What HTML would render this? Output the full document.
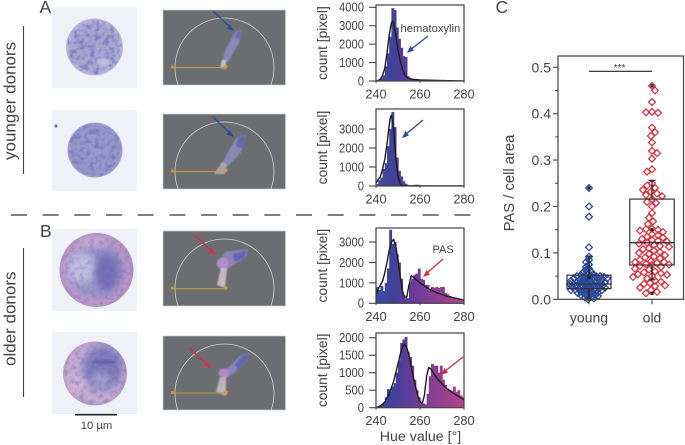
<!DOCTYPE html>
<html lang="en">
<head>
<meta charset="utf-8">
<title>PAS staining figure</title>
<style>
html,body{margin:0;padding:0;background:#fff;width:685px;height:445px;overflow:hidden}
svg{display:block;filter:blur(0.35px)}
text{font-family:"Liberation Sans",sans-serif;fill:#444}
</style>
</head>
<body>
<svg id="fig" width="685" height="445" viewBox="0 0 685 445" xmlns="http://www.w3.org/2000/svg">
<defs>
<linearGradient id="hueGrad" gradientUnits="userSpaceOnUse" x1="376" y1="0" x2="464" y2="0">
<stop offset="0" stop-color="#3c4f9e"/><stop offset="0.2" stop-color="#41409a"/><stop offset="0.45" stop-color="#6a3c98"/><stop offset="0.75" stop-color="#96408f"/><stop offset="1" stop-color="#b04490"/>
</linearGradient>
<radialGradient id="cellYoung1"><stop offset="0" stop-color="#a4a4d0"/><stop offset="0.85" stop-color="#a9a9d3"/><stop offset="1" stop-color="#bcbbdb"/></radialGradient>
<radialGradient id="cellYoung2"><stop offset="0" stop-color="#9a9bce"/><stop offset="0.9" stop-color="#9495c9"/><stop offset="1" stop-color="#a7a6d2"/></radialGradient>
<radialGradient id="cellOld1"><stop offset="0" stop-color="#9a95c8"/><stop offset="0.62" stop-color="#9c93c6"/><stop offset="0.85" stop-color="#bb99c8"/><stop offset="1" stop-color="#b093c2"/></radialGradient>
<radialGradient id="cellOld2"><stop offset="0" stop-color="#b9a8d2"/><stop offset="0.85" stop-color="#c7adcf"/><stop offset="1" stop-color="#b39ec8"/></radialGradient>
<filter id="mottle" x="0" y="0" width="100%" height="100%" color-interpolation-filters="sRGB"><feTurbulence type="fractalNoise" baseFrequency="0.2" numOctaves="2" seed="4"/><feColorMatrix values="0 0 0 0 0.38  0 0 0 0 0.38  0 0 0 0 0.68  3 0 0 0 -1.3"/><feComposite in2="SourceAlpha" operator="in"/></filter>
<filter id="soft" x="-40%" y="-40%" width="180%" height="180%"><feGaussianBlur stdDeviation="4"/></filter>
<filter id="soft2" x="-40%" y="-40%" width="180%" height="180%"><feGaussianBlur stdDeviation="0.9"/></filter>
<clipPath id="clipS1"><rect x="163" y="10" width="122" height="75"/></clipPath>
<clipPath id="clipS2"><rect x="163" y="114" width="122" height="75"/></clipPath>
<clipPath id="clipS3"><rect x="163" y="231" width="122" height="75"/></clipPath>
<clipPath id="clipS4"><rect x="163" y="336" width="122" height="74"/></clipPath>
<clipPath id="cc3"><circle cx="96.5" cy="270" r="37"/></clipPath>
<clipPath id="cc4"><circle cx="95" cy="373.5" r="32"/></clipPath>
</defs>

<text x="39.5" y="13" font-size="17.5">A</text>
<text x="40" y="237" font-size="17.5">B</text>
<text x="495.5" y="13" font-size="17.5">C</text>

<text transform="translate(15.5,160) rotate(-90)" font-size="17">younger donors</text>
<line x1="23.5" y1="26" x2="23.5" y2="174" stroke="#444" stroke-width="1.1"/>
<text transform="translate(15.5,366) rotate(-90)" font-size="17">older donors</text>
<line x1="23.5" y1="248" x2="23.5" y2="397" stroke="#444" stroke-width="1.1"/>
<line x1="11" y1="215" x2="471" y2="215" stroke="#333" stroke-width="1.3" stroke-dasharray="16 15.67"/>

<g>
<rect x="52" y="7" width="85" height="81" fill="#f0f0f8"/>
<circle cx="94.5" cy="47" r="28.5" fill="url(#cellYoung1)"/>
<circle cx="94.5" cy="47" r="27.5" fill="#000" filter="url(#mottle)" opacity="0.6"/>
<ellipse cx="103" cy="62" rx="6" ry="4" fill="#bcbcdc" filter="url(#soft2)"/>
</g>
<g>
<rect x="52" y="110" width="85" height="81" fill="#f0f0f8"/>
<circle cx="95" cy="150" r="27.5" fill="url(#cellYoung2)"/>
<circle cx="95" cy="150" r="26.5" fill="#000" filter="url(#mottle)" opacity="0.5"/>
<circle cx="56" cy="126" r="1.5" fill="#666a80"/>
</g>
<g>
<rect x="52" y="229" width="85" height="82" fill="#f0f0f8"/>
<circle cx="96.5" cy="270" r="37" fill="url(#cellOld1)"/>
<g clip-path="url(#cc3)">
<ellipse cx="82" cy="268" rx="15" ry="16" fill="#c0bde0" filter="url(#soft)"/>
<ellipse cx="107" cy="272" rx="12" ry="19" fill="#7470b6" filter="url(#soft)"/>
<ellipse cx="92" cy="243" rx="18" ry="4" fill="#c6b2d8" filter="url(#soft)"/>
</g>
<circle cx="96.5" cy="270" r="36" fill="#000" filter="url(#mottle)" opacity="0.3"/>
</g>
<g>
<rect x="52" y="332" width="85" height="82" fill="#f0f0f8"/>
<circle cx="95" cy="373.5" r="32" fill="url(#cellOld2)"/>
<g clip-path="url(#cc4)">
<ellipse cx="103" cy="368" rx="20" ry="22" fill="#7f7bba" filter="url(#soft)"/>
<ellipse cx="101" cy="380" rx="8" ry="7" fill="#afaddb" filter="url(#soft)"/>
<ellipse cx="104" cy="362" rx="12" ry="2" fill="#6762ac" filter="url(#soft2)"/>
<ellipse cx="76" cy="384" rx="7" ry="8" fill="#d8b8d6" filter="url(#soft)"/>
</g>
<circle cx="95" cy="373.5" r="31" fill="#000" filter="url(#mottle)" opacity="0.35"/>
</g>
<line x1="75" y1="414.7" x2="117" y2="414.7" stroke="#222" stroke-width="1.6"/>
<text x="96.5" y="429" font-size="11.3" text-anchor="middle">10 µm</text>

<g>
<rect x="163" y="10" width="122.5" height="75" fill="#6c6d70" stroke="#cfcfcf" stroke-width="0.7"/>
<g clip-path="url(#clipS1)">
<circle cx="224.5" cy="67.5" r="49.5" fill="none" stroke="#d4d4d4" stroke-width="0.8"/>
<path d="M222 62 L226 48 L236 31 L242 30 L239 43 L228 62 Z" fill="#928cc4" opacity="0.85" filter="url(#soft2)"/>
<path d="M235 38 L238 31 L242 30 L240 39 Z" fill="#5e66ae" opacity="0.85" filter="url(#soft2)"/>
<path d="M220 68 L222 60 L226 60 L226 69 Z" fill="#d9d2d4" opacity="0.8" filter="url(#soft2)"/>
<line x1="172" y1="67.5" x2="225" y2="67.5" stroke="#bfa044" stroke-width="1"/>
<rect x="171" y="65.5" width="2.5" height="3" fill="#c9a22e"/><rect x="224.5" y="65" width="3" height="3" fill="#c9a22e"/>
</g></g>
<line x1="213" y1="11" x2="231" y2="28" stroke="#2c4a9e" stroke-width="1.4"/>
<polygon points="234,31 226.5,28.5 230,24.5" fill="#2c4a9e"/>

<g>
<rect x="163" y="114" width="122.5" height="75" fill="#6c6d70" stroke="#cfcfcf" stroke-width="0.7"/>
<g clip-path="url(#clipS2)">
<circle cx="224.5" cy="171.5" r="49.5" fill="none" stroke="#d4d4d4" stroke-width="0.8"/>
<path d="M222 164 L229 150 L238 136 L246 136 L241 152 L228 166 Z" fill="#928cc4" opacity="0.85" filter="url(#soft2)"/>
<path d="M236 146 L238 136 L246 136 L243 149 Z" fill="#5e66ae" opacity="0.85" filter="url(#soft2)"/>
<path d="M214 174 L222 162 L227 165 L225 174 Z" fill="#d4c8cf" opacity="0.6" filter="url(#soft2)"/>
<line x1="172" y1="171.5" x2="225" y2="171.5" stroke="#bfa044" stroke-width="1"/>
<rect x="171" y="169.5" width="2.5" height="3" fill="#c9a22e"/><rect x="224.5" y="169" width="3" height="3" fill="#c9a22e"/>
</g></g>
<line x1="213" y1="117" x2="231" y2="134" stroke="#2c4a9e" stroke-width="1.4"/>
<polygon points="234,137 226.5,134.5 230,130.5" fill="#2c4a9e"/>

<g>
<rect x="163" y="231" width="122.5" height="75" fill="#6c6d70" stroke="#cfcfcf" stroke-width="0.7"/>
<g clip-path="url(#clipS3)">
<circle cx="224.5" cy="288.5" r="49.5" fill="none" stroke="#d4d4d4" stroke-width="0.8"/>
<path d="M216 264 L226 252 L248 249 L246 257 L235 264 L226 270 L220 270 Z" fill="#9188c6" opacity="0.85" filter="url(#soft2)"/>
<path d="M233 254 L247 250 L245 258 L235 262 Z" fill="#5c64b0" opacity="0.85" filter="url(#soft2)"/>
<ellipse cx="223" cy="263" rx="6" ry="5.5" fill="#b68ec6" opacity="0.85" filter="url(#soft2)"/>
<path d="M217 285 L221 268 L227 268 L225 288 Z" fill="#d8d0d6" opacity="0.8" filter="url(#soft2)"/>
<line x1="172" y1="288.7" x2="225" y2="288.7" stroke="#b59a45" stroke-width="1.1"/>
<rect x="171" y="286.5" width="2.5" height="3" fill="#c9a22e"/><rect x="224.5" y="286.5" width="3" height="3" fill="#c9a22e"/>
</g></g>
<line x1="194" y1="235" x2="213" y2="252" stroke="#d4313c" stroke-width="1.4"/>
<polygon points="216,255 208.5,252.5 212,248.5" fill="#d4313c"/>

<g>
<rect x="163" y="336" width="122.5" height="74" fill="#6c6d70" stroke="#cfcfcf" stroke-width="0.7"/>
<g clip-path="url(#clipS4)">
<circle cx="224.5" cy="393.5" r="49.5" fill="none" stroke="#d4d4d4" stroke-width="0.8"/>
<path d="M218 372 L228 368 L240 356 L250 352 L246 362 L233 374 L225 378 Z" fill="#9188c6" opacity="0.85" filter="url(#soft2)"/>
<path d="M235 364 L242 356 L250 352 L246 362 L238 370 Z" fill="#5c64b0" opacity="0.85" filter="url(#soft2)"/>
<ellipse cx="224" cy="373" rx="5.5" ry="4.5" fill="#b68ec6" opacity="0.85" filter="url(#soft2)"/>
<path d="M216 392 L220 377 L226 377 L226 396 Z" fill="#d6ced3" opacity="0.75" filter="url(#soft2)"/>
<line x1="172" y1="393" x2="225" y2="393" stroke="#b59a45" stroke-width="1.1"/>
<rect x="171" y="391" width="2.5" height="3" fill="#c9a22e"/><rect x="224.5" y="391" width="3" height="3" fill="#c9a22e"/>
</g></g>
<line x1="189" y1="348" x2="208" y2="365" stroke="#d4313c" stroke-width="1.4"/>
<polygon points="211,368 203.5,365.5 207,361.5" fill="#d4313c"/>

<g id="histograms"></g>

<text x="400.5" y="32" font-size="11.2">hematoxylin</text>
<line x1="428" y1="36" x2="410" y2="50" stroke="#2c4a9e" stroke-width="1.3"/>
<polygon points="407,53 410.5,46 414,50.5" fill="#2c4a9e"/>
<line x1="423" y1="120" x2="405" y2="135" stroke="#2c4a9e" stroke-width="1.3"/>
<polygon points="402,138 405.5,131 409,135.5" fill="#2c4a9e"/>
<text x="432.5" y="253" font-size="11">PAS</text>
<line x1="443" y1="259" x2="426" y2="274" stroke="#d4313c" stroke-width="1.3"/>
<polygon points="423,277 426.5,270 430,274.5" fill="#d4313c"/>
<line x1="463" y1="357" x2="444" y2="372" stroke="#d4313c" stroke-width="1.3"/>
<polygon points="441,375 444.5,368 448,372.5" fill="#d4313c"/>
<text x="420.5" y="441" font-size="14.2" text-anchor="middle">Hue value [°]</text>

<g id="boxplot"></g>
</svg>

<script>
// ---- histogram data (counts per 1° hue bin, 240–279) ----
var hueTicks = [240, 260, 280];
var hist1Counts = [0,30,150,300,800,1500,2400,3950,3850,2900,2300,1800,1350,1300,250,150,120,100,90,80,70,80,60,50,40,40,30,30,30,20,60,20,20,10,10,10,10,10,5,5];
var hist2Counts = [100,300,450,900,1200,2100,3000,3900,3100,1500,800,500,250,120,60,40,50,60,70,60,40,20,20,10,10,10,10,10,10,5,5,5,5,5,5,5,5,5,5,5];
var hist3Counts = [800,650,850,600,1000,1700,3600,2900,3000,2400,2000,1200,400,250,250,1050,1200,1400,1450,1700,1200,1150,900,900,700,800,750,800,750,800,800,500,450,350,300,250,200,200,150,150];
var hist4Counts = [20,40,80,150,300,530,450,600,700,1000,1350,1850,1950,2020,1600,1450,1200,800,500,300,150,120,100,400,900,1250,1200,1200,1000,1200,800,650,550,500,480,600,450,500,350,300];
var curve1Hue = [240,241,242,243,244,245,246,247,247.5,248,249,250,251,252,253,254,256,260,270,280];
var curve1Count = [0,30,100,300,700,1500,2500,3150,3250,3150,2500,1700,1100,650,350,200,100,60,20,0];
var curve2Hue = [240,241,242,243,244,245,246,246.5,247,248,249,250,251,252,255,260,280];
var curve2Count = [150,350,500,900,1400,2200,3200,3600,3720,3000,1500,500,100,20,5,0,0];
var curve3Hue = [240,241,242,243,244,245,246,247,248,249,250,251,252,253,254,255,256,257,258,260,262,264,266,268,270,272,275,280];
var curve3Count = [400,700,900,1100,1500,2000,2600,3000,3130,2800,2100,1300,600,320,300,900,1350,1270,1170,1000,850,700,600,500,430,350,280,160];
var curve4Hue = [240,242,244,246,248,250,251,252,253,254,255,256,257,258,259,260,261,262,263,264,265,266,268,270,272,275,280];
var curve4Count = [0,50,160,380,750,1250,1520,1740,1820,1720,1480,1180,860,590,340,170,110,350,900,1150,1100,1000,820,680,550,420,230];
var yTicks1 = [0,1000,2000,3000,4000];
var yTicks2 = [0,1000,2000,3000];
var yTicks3 = [0,1000,2000,3000];
var yTicks4 = [0,500,1000,1500,2000];

// ---- box plot data ----
var groupNames = ['young','old'];
var pasTicks = [0,0.1,0.2,0.3,0.4,0.5];
var pasMinorTicks = [0.05,0.15,0.25,0.35,0.45];
var youngStats = {q1:0.023,median:0.033,q3:0.052,whiskLow:0,whiskHigh:0.093,mean:0.047,min:0,max:0.24};
var oldStats = {q1:0.074,median:0.122,q3:0.216,whiskLow:0.042,whiskHigh:0.256,mean:0.15,min:0.013,max:0.46};
var youngValues = [0.24,0.2,0.178,0.112,0.092,0.085,0.08,0.075,0.07,0.066,0.063,0.06,0.058,0.055,0.054,0.052,0.052,0.05,0.05,0.05,0.048,0.048,0.047,0.046,0.045,0.045,0.044,0.043,0.042,0.042,0.041,0.04,0.04,0.039,0.038,0.037,0.037,0.036,0.035,0.035,0.034,0.033,0.033,0.032,0.031,0.03,0.03,0.029,0.028,0.028,0.027,0.026,0.025,0.025,0.024,0.023,0.022,0.022,0.021,0.02,0.02,0.019,0.018,0.017,0.016,0.015,0.014,0.013,0.012,0.011,0.01,0.009,0.008,0.007,0.005,0.004,0.002,0];
var oldValues = [0.46,0.45,0.425,0.404,0.403,0.402,0.37,0.36,0.352,0.338,0.32,0.315,0.303,0.28,0.275,0.25,0.245,0.24,0.236,0.232,0.228,0.225,0.222,0.216,0.21,0.208,0.2,0.186,0.176,0.168,0.162,0.152,0.151,0.15,0.148,0.145,0.14,0.138,0.135,0.133,0.13,0.128,0.126,0.124,0.122,0.12,0.117,0.115,0.113,0.11,0.108,0.105,0.102,0.1,0.098,0.095,0.092,0.09,0.088,0.085,0.082,0.08,0.08,0.078,0.076,0.075,0.074,0.072,0.07,0.066,0.064,0.06,0.058,0.056,0.054,0.053,0.05,0.048,0.045,0.04,0.038,0.035,0.033,0.03,0.028,0.025,0.02,0.016,0.013];

var NS = 'http://www.w3.org/2000/svg';
function make(parent, tag, attrs, text) {
  var el = document.createElementNS(NS, tag);
  for (var k in attrs) el.setAttribute(k, attrs[k]);
  if (text !== undefined) el.textContent = text;
  parent.appendChild(el);
  return el;
}

// ---- histograms ----
var histRoot = document.getElementById('histograms');
function drawHist(cfg) {
  var g = make(histRoot, 'g', {});
  
  
  var L = 376, R = 464;
  function x(h) { return L + (h - 240) / 40 * (R - L); }
  function y(c) { return cfg.y0 - c * cfg.pxPerCount; }
  var clipId = 'histClip' + cfg.id;
  var defs = make(g, 'defs', {});
  var cp = make(defs, 'clipPath', {id: clipId});
  make(cp, 'rect', {x: L, y: cfg.top, width: R - L, height: cfg.y0 - cfg.top});
  var plot = make(g, 'g', {'clip-path': 'url(#' + clipId + ')'});
  cfg.counts.forEach(function (c, i) {
    var bar = make(plot, 'rect', {x: x(240 + i), y: y(c), width: x(241) - x(240) + 0.7, height: Math.max(0, cfg.y0 - y(c)), fill: 'url(#hueGrad)'});
    
    
  });
  var pts = cfg.curveHue.map(function (h, i) { return x(h).toFixed(2) + ',' + y(cfg.curveCount[i]).toFixed(2); }).join(' ');
  var fit = make(plot, 'polyline', {points: pts, fill: 'none', stroke: '#1c1c1c', 'stroke-width': 1.4, 'stroke-linejoin': 'round'});
  
  
  var frame = make(g, 'rect', {x: L, y: cfg.top, width: R - L, height: cfg.y0 - cfg.top, fill: 'none', stroke: '#444', 'stroke-width': 1.2});
  
  
  cfg.yTicks.forEach(function (t) {
    make(g, 'line', {x1: L - 7, x2: L, y1: y(t), y2: y(t), stroke: '#444', 'stroke-width': 1.1});
    var s = String(t);
    var lab = make(g, 'text', {x: L - 12, y: y(t) + 4.4, 'font-size': 12.5, 'text-anchor': 'end', textLength: s.length * 6.25, lengthAdjust: 'spacingAndGlyphs'}, s);
    
    
  });
  hueTicks.forEach(function (t) {
    make(g, 'line', {x1: x(t), x2: x(t), y1: cfg.y0, y2: cfg.y0 + 2, stroke: '#444', 'stroke-width': 1});
    var lab = make(g, 'text', {x: x(t), y: cfg.y0 + 17.5, 'font-size': 12.8, 'text-anchor': 'middle'}, String(t));
    
    
  });
  var title = make(g, 'text', {transform: 'translate(327,' + ((cfg.top + cfg.y0) / 2) + ') rotate(-90)', 'font-size': 13.8, 'text-anchor': 'middle'}, 'count [pixel]');
  
  
}
drawHist({id: 1, top: 5, y0: 81, pxPerCount: 73.7 / 4000, counts: hist1Counts, curveHue: curve1Hue, curveCount: curve1Count, yTicks: yTicks1});
drawHist({id: 2, top: 109, y0: 186, pxPerCount: 57 / 3000, counts: hist2Counts, curveHue: curve2Hue, curveCount: curve2Count, yTicks: yTicks2});
drawHist({id: 3, top: 228, y0: 303.3, pxPerCount: 61.3 / 3000, counts: hist3Counts, curveHue: curve3Hue, curveCount: curve3Count, yTicks: yTicks3});
drawHist({id: 4, top: 333, y0: 407.7, pxPerCount: 70 / 2000, counts: hist4Counts, curveHue: curve4Hue, curveCount: curve4Count, yTicks: yTicks4});

// ---- box plot ----
var boxRoot = document.getElementById('boxplot');
var bL = 558, bR = 683.5, bT = 56, bB = 299.3;
function py(v) { return bB - v * 464; }
var catX = {young: 589, old: 652};

function swarm(values, cx, limit, spacing) {
  var placed = [];
  values.forEach(function (v) {
    var vy = py(v), off = 0, step = 0, found = false;
    while (!found) {
      var candidates = step === 0 ? [0] : (placed.length % 2 ? [step, -step] : [-step, step]);
      for (var c = 0; c < candidates.length; c++) {
        var ok = placed.every(function (p) {
          var dx = p.x - (cx + candidates[c]), dy = p.y - vy;
          return dx * dx + dy * dy >= spacing * spacing;
        });
        if (ok) { off = candidates[c]; found = true; break; }
      }
      step += 1;
      if (step > limit) {
        off = (placed.length % 2 ? 1 : -1) * ((placed.length * 7) % limit);
        found = true;
      }
    }
    placed.push({x: cx + off, y: vy});
  });
  return placed;
}

function drawPoints(values, cx, color, name, limit, spacing) {
  var g = make(boxRoot, 'g', {});
  
  
  swarm(values, cx, limit, spacing).forEach(function (p) {
    var d = make(g, 'polygon', {
      points: [p.x, p.y - 3.4, p.x + 3.4, p.y, p.x, p.y + 3.4, p.x - 3.4, p.y].join(','),
      fill: 'none', stroke: color, 'stroke-width': 1.25
    });
    
    
  });
}
drawPoints(youngValues, catX.young, '#2b4a9c', 'young', 21, 3.2);
drawPoints(oldValues, catX.old, '#dc303c', 'old', 21, 5.4);

function drawBox(s, cx, halfW, name) {
  var g = make(boxRoot, 'g', {stroke: '#333', fill: 'none'});
  
  
  make(g, 'rect', {x: cx - halfW, y: py(s.q3), width: halfW * 2, height: py(s.q1) - py(s.q3), 'stroke-width': 1.2});
  make(g, 'line', {x1: cx - halfW, x2: cx + halfW, y1: py(s.median), y2: py(s.median), 'stroke-width': 1.3});
  make(g, 'line', {x1: cx, x2: cx, y1: py(s.q3), y2: py(s.whiskHigh), 'stroke-width': 1.3, stroke: '#222'});
  make(g, 'line', {x1: cx, x2: cx, y1: py(s.q1), y2: py(s.whiskLow), 'stroke-width': 1.3, stroke: '#222'});
  make(g, 'line', {x1: cx - 3.5, x2: cx + 3.5, y1: py(s.whiskHigh), y2: py(s.whiskHigh), 'stroke-width': 1.2, stroke: '#222'});
  make(g, 'line', {x1: cx - 3.5, x2: cx + 3.5, y1: py(s.whiskLow), y2: py(s.whiskLow), 'stroke-width': 1.2, stroke: '#222'});
  [s.mean, s.min, s.max].forEach(function (v) {
    make(g, 'rect', {x: cx - 1.6, y: py(v) - 1.6, width: 3.2, height: 3.2, fill: '#222', stroke: 'none'});
  });
}
drawBox(youngStats, catX.young, 22, 'young');
drawBox(oldStats, catX.old, 22.2, 'old');

var frameC = make(boxRoot, 'rect', {x: bL, y: bT, width: bR - bL, height: bB - bT, fill: 'none', stroke: '#444', 'stroke-width': 1.2});


pasTicks.forEach(function (t) {
  make(boxRoot, 'line', {x1: bL - 5, x2: bL, y1: py(t), y2: py(t), stroke: '#444', 'stroke-width': 1.1});
  var lab = make(boxRoot, 'text', {x: bL - 7, y: py(t) + 5, 'font-size': 14, 'text-anchor': 'end'}, t.toFixed(1));
  
  
});
pasMinorTicks.forEach(function (t) {
  make(boxRoot, 'line', {x1: bL - 3, x2: bL, y1: py(t), y2: py(t), stroke: '#444', 'stroke-width': 1});
});
groupNames.forEach(function (n) {
  make(boxRoot, 'line', {x1: catX[n], x2: catX[n], y1: bB, y2: bB + 5, stroke: '#444', 'stroke-width': 1.1});
  var lab = make(boxRoot, 'text', {x: catX[n], y: bB + 23, 'font-size': 14, 'text-anchor': 'middle'}, n);
  
  
});
var yTitle = make(boxRoot, 'text', {transform: 'translate(514,183) rotate(-90)', 'font-size': 14.8, 'text-anchor': 'middle'}, 'PAS / cell area');


var sig = make(boxRoot, 'line', {x1: catX.young, x2: catX.old, y1: 71.3, y2: 71.3, stroke: '#222', 'stroke-width': 1.2});


var stars = make(boxRoot, 'text', {x: 619.5, y: 71, 'font-size': 10, 'text-anchor': 'middle'}, '***');


</script>
</body>
</html>
